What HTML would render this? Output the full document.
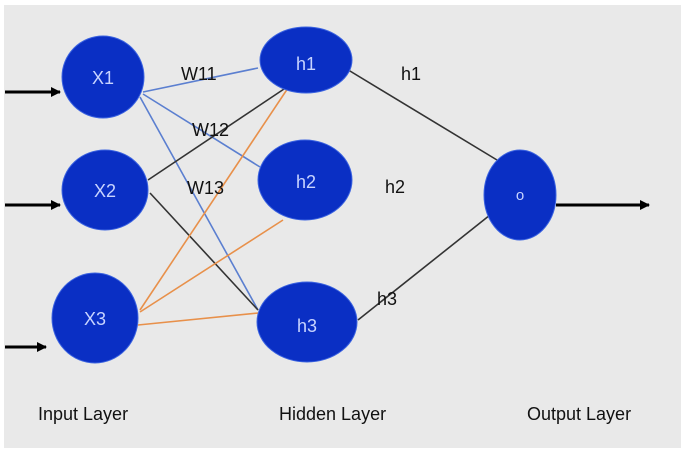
<!DOCTYPE html>
<html><head><style>
html,body{margin:0;padding:0;background:#fff;}
svg{display:block;}
text{font-family:"Liberation Sans",sans-serif;}
</style></head><body>
<svg width="685" height="455" viewBox="0 0 685 455">
<rect x="4" y="5" width="677" height="443" fill="#e9e9e9"/>
<defs><marker id="a" markerWidth="10" markerHeight="10" refX="9" refY="5" orient="auto" markerUnits="userSpaceOnUse"><path d="M0,0 L10,5 L0,10 z" fill="#000"/></marker></defs>
<g stroke-width="1.6">
<line x1="143" y1="92" x2="258" y2="68" stroke="#5b7fd0"/>
<line x1="143" y1="94" x2="260" y2="167" stroke="#5b7fd0"/>
<line x1="140" y1="97" x2="258" y2="310" stroke="#5b7fd0"/>
<line x1="148" y1="180" x2="290" y2="85" stroke="#333"/>
<line x1="150" y1="193" x2="258" y2="310" stroke="#333"/>
<line x1="140" y1="310" x2="288" y2="88" stroke="#e8904a"/>
<line x1="140" y1="312" x2="283" y2="220" stroke="#e8904a"/>
<line x1="138" y1="325" x2="258" y2="313" stroke="#e8904a"/>
<line x1="345" y1="68" x2="497" y2="160" stroke="#333"/>
<line x1="358" y1="320" x2="490" y2="215" stroke="#333"/>
</g>
<g stroke="#000" stroke-width="3" marker-end="url(#a)">
<line x1="5" y1="92" x2="60" y2="92"/>
<line x1="5" y1="205" x2="60" y2="205"/>
<line x1="5" y1="347" x2="46" y2="347"/>
<line x1="556" y1="205" x2="649" y2="205"/>
</g>
<g fill="#0a2fc4" stroke="#3b63e0" stroke-width="1">
<ellipse cx="103" cy="77" rx="41" ry="41"/>
<ellipse cx="105" cy="190" rx="43" ry="40"/>
<ellipse cx="95" cy="318" rx="43" ry="45"/>
<ellipse cx="306" cy="60" rx="46" ry="33"/>
<ellipse cx="305" cy="180" rx="47" ry="40"/>
<ellipse cx="307" cy="322" rx="50" ry="40"/>
<ellipse cx="520" cy="195" rx="36" ry="45"/>
</g>
<g fill="#c8d4ff" font-size="18" text-anchor="middle">
<text x="103" y="84">X1</text>
<text x="105" y="197">X2</text>
<text x="95" y="325">X3</text>
<text x="306" y="70">h1</text>
<text x="306" y="188">h2</text>
<text x="307" y="332">h3</text>
<text x="520" y="200" font-size="15">o</text>
</g>
<g fill="#111" font-size="18">
<text x="181" y="80">W11</text>
<text x="192" y="136">W12</text>
<text x="187" y="194">W13</text>
<text x="401" y="80">h1</text>
<text x="385" y="193">h2</text>
<text x="377" y="305">h3</text>
<text x="38" y="420">Input Layer</text>
<text x="279" y="420">Hidden Layer</text>
<text x="527" y="420">Output Layer</text>
</g>
</svg>
</body></html>
